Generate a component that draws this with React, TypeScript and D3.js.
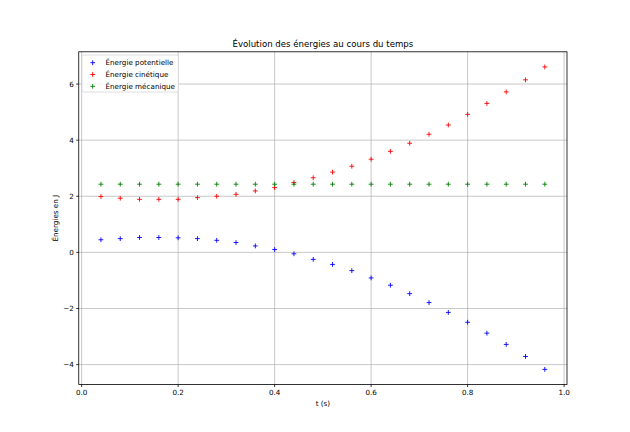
import { useEffect, useRef } from "react";
import * as d3 from "d3";

const W = 630;
const H = 432;

// time in seconds
const times = [
  0.04, 0.08, 0.12, 0.16, 0.2, 0.24, 0.28, 0.32, 0.36, 0.4, 0.44, 0.48,
  0.52, 0.56, 0.6, 0.64, 0.68, 0.72, 0.76, 0.8, 0.84, 0.88, 0.92, 0.96,
];
const epValues = [
  0.45, 0.49, 0.53, 0.53, 0.52, 0.49, 0.43, 0.35, 0.23, 0.1, -0.05, -0.25,
  -0.43, -0.65, -0.91, -1.17, -1.47, -1.79, -2.14, -2.49, -2.88, -3.28, -3.71, -4.17,
];
const ecValues = [
  1.99, 1.93, 1.89, 1.89, 1.89, 1.95, 2.0, 2.07, 2.19, 2.31, 2.49, 2.66,
  2.86, 3.07, 3.32, 3.6, 3.89, 4.21, 4.54, 4.92, 5.31, 5.72, 6.15, 6.61,
];
const emValues = [
  2.43, 2.43, 2.43, 2.43, 2.43, 2.43, 2.43, 2.43, 2.43, 2.43, 2.43, 2.43,
  2.43, 2.43, 2.43, 2.43, 2.43, 2.43, 2.43, 2.43, 2.43, 2.43, 2.43, 2.43,
];
const seriesNames = ["Énergie potentielle", "Énergie cinétique", "Énergie mécanique"];
const seriesColors = ["#0000ff", "#ff0000", "#008000"];
const xTicks = [0, 0.2, 0.4, 0.6, 0.8, 1.0];
const yTicks = [-4, -2, 0, 2, 4, 6];

const FONT = "DejaVu Sans, sans-serif";

export default function App() {
  const svgRef = useRef<SVGSVGElement>(null);

  useEffect(() => {
    if (!svgRef.current) return;
    const svg = d3.select(svgRef.current);
    svg.selectAll("*").remove();

    const left = 78.75, right = 567, top = 51.8, bottom = 384.5;

    // matplotlib style 5% margins
    const [x0, x1] = d3.extent(times) as [number, number];
    const allY = [...epValues, ...ecValues, ...emValues];
    const [y0, y1] = d3.extent(allY) as [number, number];
    const xm = (x1 - x0) * 0.05, ym = (y1 - y0) * 0.05;
    const x = d3.scaleLinear().domain([x0 - xm, x1 + xm]).range([left, right]);
    const y = d3.scaleLinear().domain([y0 - ym, y1 + ym]).range([bottom, top]);

    svg.append("rect").attr("width", W).attr("height", H).attr("fill", "#fff");

    // grid
    const grid = svg.append("g").attr("stroke", "#b0b0b0").attr("stroke-width", 0.7);
    xTicks.forEach((t) => {
      grid.append("line").attr("x1", x(t)).attr("x2", x(t)).attr("y1", top).attr("y2", bottom);
    });
    yTicks.forEach((t) => {
      grid.append("line").attr("x1", left).attr("x2", right).attr("y1", y(t)).attr("y2", y(t));
    });

    // series
    const series = [epValues, ecValues, emValues];
    const plus = (g: d3.Selection<SVGGElement, unknown, null, undefined>, cx: number, cy: number, color: string) => {
      const r = 2.4;
      g.append("path")
        .attr("d", `M${cx - r},${cy}H${cx + r}M${cx},${cy - r}V${cy + r}`)
        .attr("stroke", color)
        .attr("stroke-width", 0.9)
        .attr("fill", "none");
    };
    series.forEach((vals, i) => {
      const g = svg.append("g");
      vals.forEach((v, j) => plus(g, x(times[j]), y(v), seriesColors[i]));
    });

    // spines
    svg.append("rect")
      .attr("x", left).attr("y", top)
      .attr("width", right - left).attr("height", bottom - top)
      .attr("fill", "none").attr("stroke", "#000").attr("stroke-width", 0.8);

    // ticks
    const ticks = svg.append("g").attr("font-family", FONT).attr("font-size", 7.2).attr("fill", "#000");
    xTicks.forEach((t) => {
      ticks.append("line").attr("x1", x(t)).attr("x2", x(t)).attr("y1", bottom).attr("y2", bottom + 2.5)
        .attr("stroke", "#000").attr("stroke-width", 0.8);
      ticks.append("text").attr("x", x(t)).attr("y", bottom + 10.6)
        .attr("text-anchor", "middle").text(d3.format(".1f")(t));
    });
    yTicks.forEach((t) => {
      ticks.append("line").attr("x1", left - 2.5).attr("x2", left).attr("y1", y(t)).attr("y2", y(t))
        .attr("stroke", "#000").attr("stroke-width", 0.8);
      ticks.append("text").attr("x", left - 5).attr("y", y(t)).attr("dy", "0.35em")
        .attr("text-anchor", "end").text(String(t).replace("-", "\u2212"));
    });

    // labels
    svg.append("text")
      .attr("x", (left + right) / 2).attr("y", 47)
      .attr("text-anchor", "middle").attr("font-family", FONT).attr("font-size", 8.6)
      .text("Évolution des énergies au cours du temps");
    svg.append("text")
      .attr("x", (left + right) / 2).attr("y", 406)
      .attr("text-anchor", "middle").attr("font-family", FONT).attr("font-size", 7.2)
      .text("t (s)");
    svg.append("text")
      .attr("transform", `translate(57.5,${(top + bottom) / 2}) rotate(-90)`)
      .attr("text-anchor", "middle").attr("font-family", FONT).attr("font-size", 7.2)
      .text("Énergies en J");

    // legend
    const lg = svg.append("g");
    lg.append("rect")
      .attr("x", 82).attr("y", 55).attr("width", 96.5).attr("height", 37)
      .attr("rx", 2).attr("fill", "#fff").attr("fill-opacity", 0.8)
      .attr("stroke", "#d6d6d6").attr("stroke-width", 0.8);
    seriesNames.forEach((name, i) => {
      const cy = 62.7 + i * 11.8;
      plus(lg, 92.7, cy, seriesColors[i]);
      lg.append("text").attr("x", 105.5).attr("y", cy).attr("dy", "0.35em")
        .attr("font-family", FONT).attr("font-size", 7.2).text(name);
    });
  }, []);

  return (
    <div style={{ position: "absolute", left: 0, top: 0 }}>
      <svg ref={svgRef} width={W} height={H} style={{ display: "block" }} />
    </div>
  );
}
